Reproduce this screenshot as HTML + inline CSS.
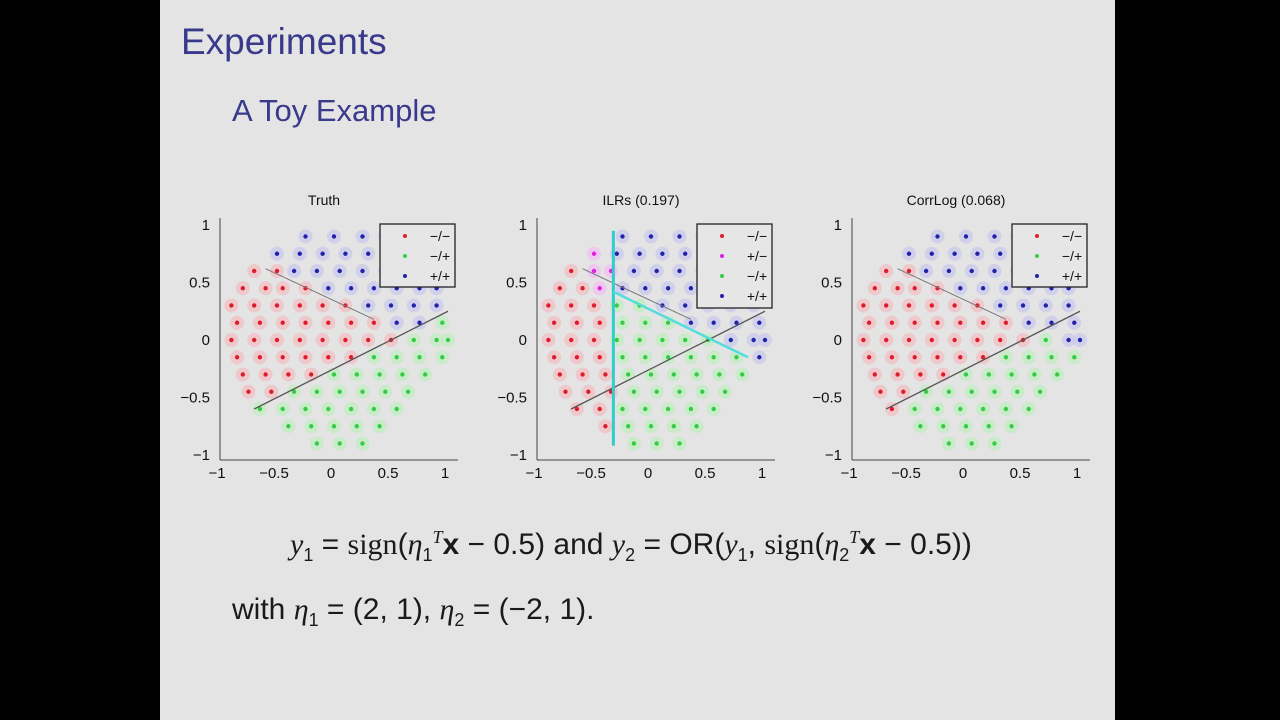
<!DOCTYPE html>
<html><head><meta charset="utf-8"><style>
html,body{margin:0;padding:0;width:1280px;height:720px;overflow:hidden;background:#000;}
#slide{position:absolute;left:160px;top:0;width:955px;height:720px;background:#e4e4e4;}
.t{position:absolute;font-family:"Liberation Sans",sans-serif;white-space:nowrap;}
svg{position:absolute;left:0;top:0;}
.m{font-family:"Liberation Serif",serif;font-style:italic;}
</style></head><body>
<div id="slide"></div>
<div class="t" style="left:181px;top:21px;font-size:37px;color:#3a3a8c;">Experiments</div>
<div class="t" style="left:232px;top:93px;font-size:31px;color:#3a3a8c;">A Toy Example</div>
<div class="t" style="left:290px;top:527px;font-size:30px;color:#1a1a1a;">
<span class="m">y</span><sub style="font-size:18px">1</sub> = <span style="font-family:'Liberation Serif',serif">sign</span>(<span class="m">η</span><sub style="font-size:18px">1</sub><sup class="m" style="font-size:18px">T</sup><b>x</b> − 0.5) and <span class="m">y</span><sub style="font-size:18px">2</sub> = OR(<span class="m">y</span><sub style="font-size:18px">1</sub>, <span style="font-family:'Liberation Serif',serif">sign</span>(<span class="m">η</span><sub style="font-size:18px">2</sub><sup class="m" style="font-size:18px">T</sup><b>x</b> − 0.5))</div>
<div class="t" style="left:232px;top:593px;font-size:30px;color:#1a1a1a;">with <span class="m">η</span><sub style="font-size:18px">1</sub> = (2, 1), <span class="m">η</span><sub style="font-size:18px">2</sub> = (−2, 1).</div>
<svg id="chart" width="1280" height="720"></svg>
<script>
const points = [
[-0.25,0.9,'bbb'],[0.0,0.9,'bbb'],[0.25,0.9,'bbb'],[0.45,0.9,'bbb'],
[-0.5,0.75,'bmb'],[-0.3,0.75,'bbb'],[-0.1,0.75,'bbb'],[0.1,0.75,'bbb'],[0.3,0.75,'bbb'],[0.55,0.75,'bbb'],
[-0.7,0.6,'rrr'],[-0.5,0.6,'rmr'],[-0.35,0.6,'bmb'],[-0.15,0.6,'bbb'],[0.05,0.6,'bbb'],[0.25,0.6,'bbb'],[0.45,0.6,'bbb'],[0.7,0.6,'bbb'],
[-0.8,0.45,'rrr'],[-0.6,0.45,'rrr'],[-0.45,0.45,'rmr'],[-0.25,0.45,'rbr'],[-0.05,0.45,'bbb'],[0.15,0.45,'bbb'],[0.35,0.45,'bbb'],[0.55,0.45,'bbb'],[0.75,0.45,'bbb'],[0.9,0.45,'bbb'],
[-0.9,0.3,'rrr'],[-0.7,0.3,'rrr'],[-0.5,0.3,'rrr'],[-0.3,0.3,'rgr'],[-0.1,0.3,'rgr'],[0.1,0.3,'rbr'],[0.3,0.3,'bbb'],[0.5,0.3,'bbb'],[0.7,0.3,'bbb'],[0.9,0.3,'bbb'],
[-0.85,0.15,'rrr'],[-0.65,0.15,'rrr'],[-0.45,0.15,'rrr'],[-0.25,0.15,'rgr'],[-0.05,0.15,'rgr'],[0.15,0.15,'rgr'],[0.35,0.15,'rbr'],[0.55,0.15,'bbb'],[0.75,0.15,'bbb'],[0.95,0.15,'gbb'],
[-0.9,0.0,'rrr'],[-0.7,0.0,'rrr'],[-0.5,0.0,'rrr'],[-0.3,0.0,'rgr'],[-0.1,0.0,'rgr'],[0.1,0.0,'rgr'],[0.3,0.0,'rgr'],[0.5,0.0,'rgr'],[0.7,0.0,'gbg'],[0.9,0.0,'gbb'],[1.0,0.0,'gbb'],
[-0.85,-0.15,'rrr'],[-0.65,-0.15,'rrr'],[-0.45,-0.15,'rrr'],[-0.25,-0.15,'rgr'],[-0.05,-0.15,'rgr'],[0.15,-0.15,'rgr'],[0.35,-0.15,'ggg'],[0.55,-0.15,'ggg'],[0.75,-0.15,'ggg'],[0.95,-0.15,'gbg'],
[-0.8,-0.3,'rrr'],[-0.6,-0.3,'rrr'],[-0.4,-0.3,'rrr'],[-0.2,-0.3,'rgr'],[0.0,-0.3,'ggg'],[0.2,-0.3,'ggg'],[0.4,-0.3,'ggg'],[0.6,-0.3,'ggg'],[0.8,-0.3,'ggg'],
[-0.75,-0.45,'rrr'],[-0.55,-0.45,'rrr'],[-0.35,-0.45,'grg'],[-0.15,-0.45,'ggg'],[0.05,-0.45,'ggg'],[0.25,-0.45,'ggg'],[0.45,-0.45,'ggg'],[0.65,-0.45,'ggg'],
[-0.65,-0.6,'grr'],[-0.45,-0.6,'grg'],[-0.25,-0.6,'ggg'],[-0.05,-0.6,'ggg'],[0.15,-0.6,'ggg'],[0.35,-0.6,'ggg'],[0.55,-0.6,'ggg'],
[-0.4,-0.75,'grg'],[-0.2,-0.75,'ggg'],[0.0,-0.75,'ggg'],[0.2,-0.75,'ggg'],[0.4,-0.75,'ggg'],
[-0.15,-0.9,'ggg'],[0.05,-0.9,'ggg'],[0.25,-0.9,'ggg']
];
const plotTitles = ['Truth','ILRs (0.197)','CorrLog (0.068)'];
const xTicks = [-1,-0.5,0,0.5,1];
const yTicks = [-1,-0.5,0,0.5,1];
const tickLabels = ['−1','−0.5','0','0.5','1'];
const legends = [[['−/−','r'],['−/+','g'],['+/+','b']],[['−/−','r'],['+/−','m'],['−/+','g'],['+/+','b']],[['−/−','r'],['−/+','g'],['+/+','b']]];
const truthLine = [[-0.7,-0.6],[1.0,0.25]];
const truthLine2 = [[-0.6,0.62],[0.35,0.18]];
const ilrVertical = [[-0.33,0.95],[-0.33,-0.92]];
const ilrDiag = [[-0.33,0.42],[0.85,-0.15]];

const COL={r:'#dd1c2c',g:'#33cc44',b:'#2222aa',m:'#dd22dd'};
const HALO={r:'#f2bcc0',g:'#bdeebd',b:'#c8c8ee',m:'#f2bcf2'};
const origins=[220,537,852];
const svg=document.getElementById('chart');
const NS='http://www.w3.org/2000/svg';
function mk(tag,attrs,parent){const e=document.createElementNS(NS,tag);for(const k in attrs)e.setAttribute(k,attrs[k]);(parent||svg).appendChild(e);return e;}
const W=228,H=230,TOP=225;
origins.forEach((ox,pi)=>{
  const g=mk('g',{});
  
  
  const sx=v=>ox+(v+1)/2*W, sy=v=>TOP+(1-v)/2*H;
  const t=mk('text',{x:ox+W/2-10,y:205,'font-size':14,'text-anchor':'middle','font-family':'Liberation Sans, sans-serif',fill:'#111'},g);
  t.textContent=plotTitles[pi];
  
  
  points.forEach(p=>{const c=p[2][pi];mk('circle',{cx:sx(p[0]),cy:sy(p[1]),r:7,fill:HALO[c],opacity:0.7},g);});
  points.forEach(p=>{const c=p[2][pi];
    const d=mk('circle',{cx:sx(p[0]),cy:sy(p[1]),r:2.2,fill:COL[c]},g);
    
    });
  const ln=(seg,col,w)=>mk('line',{x1:sx(seg[0][0]),y1:sy(seg[0][1]),x2:sx(seg[1][0]),y2:sy(seg[1][1]),stroke:col,'stroke-width':w},g);
  ln(truthLine,'#555',1.3);
  ln(truthLine2,'#777',1);
  if(pi===1){ln(ilrVertical,'#33cccc',3);ln(ilrDiag,'#55dddd',2.5);}
  mk('line',{x1:ox,y1:218,x2:ox,y2:460,stroke:'#444','stroke-width':1},g);
  mk('line',{x1:ox,y1:460,x2:ox+238,y2:460,stroke:'#444','stroke-width':1},g);
  xTicks.forEach((v,i)=>{const e=mk('text',{x:sx(v)-3,y:478,'font-size':15,'text-anchor':'middle','font-family':'Liberation Sans, sans-serif',fill:'#111'},g);e.textContent=tickLabels[i];
    
    });
  yTicks.forEach((v,i)=>{const e=mk('text',{x:ox-10,y:sy(v)+5,'font-size':15,'text-anchor':'end','font-family':'Liberation Sans, sans-serif',fill:'#111'},g);e.textContent=tickLabels[i];
    
    });
  const L=legends[pi], lx=ox+160, lh=L.length*21;
  const lg=mk('g',{},g);
  
  
  mk('rect',{x:lx,y:224,width:75,height:lh,fill:'#e6e6e6',stroke:'#222','stroke-width':1.3},lg);
  L.forEach((it,i)=>{const y=224+12+i*20;
    mk('circle',{cx:lx+25,cy:y,r:2,fill:COL[it[1]]},lg);
    const e=mk('text',{x:lx+60,y:y+5,'font-size':14,'text-anchor':'middle','font-family':'Liberation Sans, sans-serif',fill:'#111'},lg);e.textContent=it[0];
    
    });
});
</script>
</body></html>
